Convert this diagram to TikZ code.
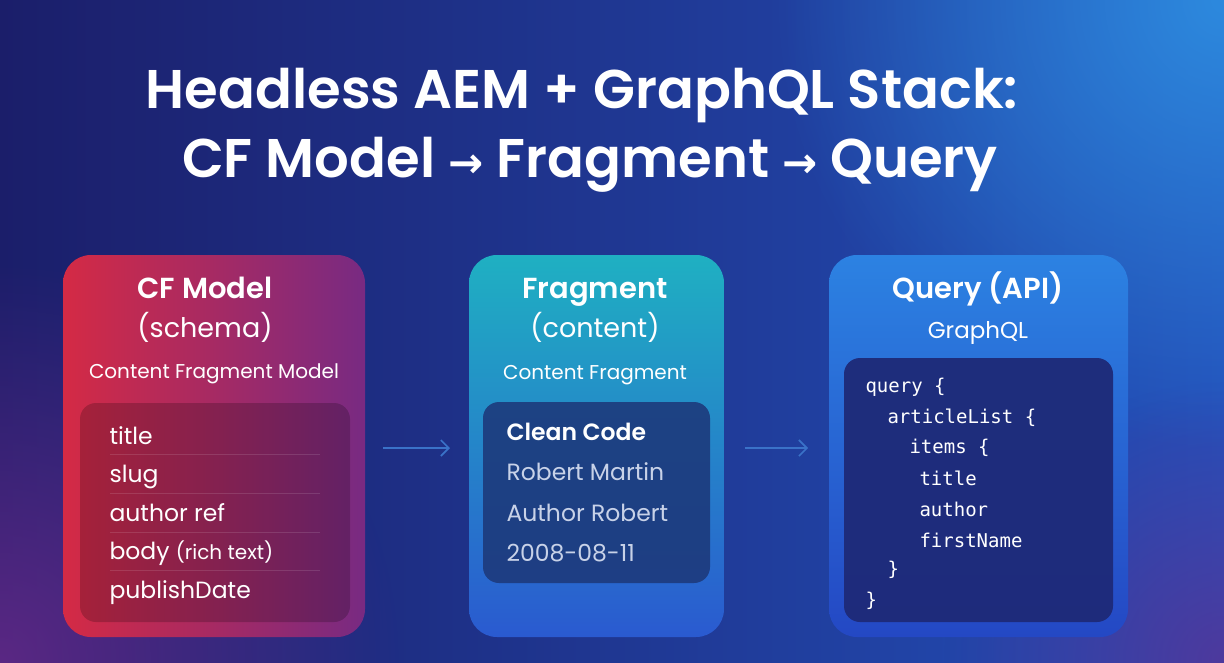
\documentclass[tikz,border=0pt]{standalone}
\usepackage{fontspec}
\setmainfont{Poppins}[BoldFont={Poppins SemiBold}]
\newfontfamily\arrowfont{DejaVu Sans}
\newfontfamily\codefont{DejaVu Sans Mono}
\usetikzlibrary{arrows.meta,fadings}
\tikzfading[name=radfade, inner color=transparent!0, outer color=transparent!100]
\definecolor{bgL}{HTML}{1B1E6A}
\definecolor{bgR}{HTML}{2350BA}
\definecolor{glow}{HTML}{2E90E2}
\definecolor{purp}{HTML}{6A2A8A}
\definecolor{redA}{HTML}{D42A45}
\definecolor{redB}{HTML}{782A82}
\definecolor{tealA}{HTML}{1FB0C2}
\definecolor{tealB}{HTML}{2A5AD0}
\definecolor{bluA}{HTML}{2C82E2}
\definecolor{bluB}{HTML}{2448C4}
\definecolor{inner2}{HTML}{1D3A7C}
\definecolor{inner3}{HTML}{1E2A78}
\definecolor{arr}{HTML}{3A72C8}
\definecolor{soft}{HTML}{C8D2E8}
\tikzset{
  card/.style={rounded corners=28pt},
  ttl/.style={text=white,font=\fontsize{29}{34}\selectfont\bfseries,anchor=base},
  sub/.style={text=white,font=\fontsize{27}{32}\selectfont,anchor=base},
  small/.style={text=white,font=\fontsize{20}{24}\selectfont,anchor=base},
  item/.style={text=white,font=\fontsize{23.5}{28}\selectfont,anchor=base west},
  code/.style={text=white,font=\codefont\fontsize{19}{23}\selectfont,anchor=west},
  conn/.style={arr,line width=1.6pt,-{Straight Barb[length=8pt,width=16pt]}},
  sep/.style={white,opacity=0.12,line width=0.8pt}
}
\begin{document}
\begin{tikzpicture}[x=1pt,y=-1pt]
\useasboundingbox (0,0) rectangle (1224,662);
\begin{scope}
\clip (0,0) rectangle (1224,662);
\shade[left color=bgL,right color=bgR] (0,0) rectangle (1224,662);
\fill[glow,path fading=radfade,opacity=0.9] (1224,0) circle (450);
\fill[purp,path fading=radfade,opacity=0.8] (0,662) circle (400);
\fill[purp,path fading=radfade,opacity=0.6] (1224,662) circle (280);
\end{scope}
% title
\node[text=white,font=\fontsize{54.5}{60}\selectfont\bfseries,anchor=base] (t1) at (582,108) {Headless AEM + GraphQL Stack:};
\node[text=white,font=\fontsize{54.5}{60}\selectfont\bfseries,anchor=base] (t2) at (590,177) {CF Model {\arrowfont\fontsize{42}{42}\selectfont→} Fragment {\arrowfont\fontsize{42}{42}\selectfont→} Query};
% cards
\shade[card,left color=redA,right color=redB] (63,255) rectangle (365,637);
\fill[rounded corners=16pt,black,opacity=0.2] (80,403) rectangle (350,622);
\shade[card,top color=tealA,bottom color=tealB] (469,255) rectangle (724,637);
\fill[rounded corners=16pt,inner2,opacity=0.9] (483,402) rectangle (710,583);
\shade[card,top color=bluA,bottom color=bluB] (829,255) rectangle (1128,637);
\fill[rounded corners=16pt,inner3,opacity=0.95] (844,358) rectangle (1113,622);
% card 1
\node[ttl] (c1t) at (205,298) {CF Model};
\node[sub] (c1s) at (205,337) {(schema)};
\node[small] (c1d) at (214,378) {Content Fragment Model};
\foreach \y in {454,493,532,570} \draw[sep] (110,\y) -- (320,\y);
\node[item] (i1) at (106,444) {title};
\node[item] (i2) at (106,482) {slug};
\node[item] (i3) at (106,521) {author ref};
\node[item] (i4) at (106,559) {body {\fontsize{20}{22}\selectfont(rich text)}};
\node[item] (i5) at (106,598) {publishDate};
% card 2
\node[ttl] (c2t) at (595,298) {Fragment};
\node[sub] (c2s) at (595,337) {(content)};
\node[small] (c2d) at (595,379) {Content Fragment};
\node[item,font=\fontsize{23.5}{28}\selectfont\bfseries] (f1) at (503,440) {Clean Code};
\node[item,text=soft] (f2) at (503,480) {Robert Martin};
\node[item,text=soft] (f3) at (503,521) {Author Robert};
\node[item,text=soft] (f4) at (503,561) {2008-08-11};
% card 3
\node[ttl] (c3t) at (978,298) {Query (API)};
\node[sub,font=\fontsize{23}{28}\selectfont] (c3s) at (978,338) {GraphQL};
\node[code] (q1) at (862,387) {query \{};
\node[code] (q2) at (884,418) {articleList \{};
\node[code] (q3) at (906,448) {items \{};
\node[code] (q4) at (916,478) {title};
\node[code] (q5) at (916,509) {author};
\node[code] (q6) at (916,540) {firstName};
\node[code] (q7) at (884,570) {\}};
\node[code] (q8) at (862,601) {\}};
% arrows
\coordinate (a1s) at (383,448); \coordinate (a1e) at (450,448);
\coordinate (a2s) at (745,448); \coordinate (a2e) at (808,448);
\draw[conn] (a1s) -- (a1e);
\draw[conn] (a2s) -- (a2e);
\end{tikzpicture}
\end{document}
